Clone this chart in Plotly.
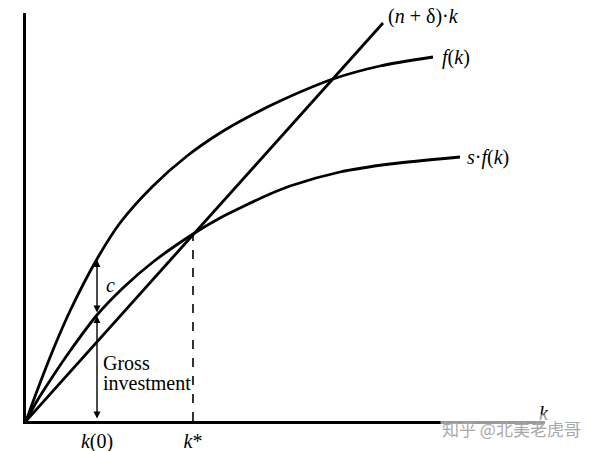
import plotly.graph_objects as go

# Capital stock (x) and output/investment (y)
k_f = [0, 11, 27, 44, 71, 94, 127, 161, 194, 222, 254, 307, 354, 407]
f_vals = [0, 30, 71, 110, 162, 198, 235, 265, 288, 304, 320, 342, 355, 364]

k_sf = [0, 11, 27, 44, 71, 98, 127, 167, 194, 214, 244, 264, 314, 364, 434]
sf_vals = [0, 20, 45, 70, 106, 134, 159, 187, 203, 213, 227, 235, 249, 257, 264]

k_line = [0, 357]
line_vals = [0, 398]

k0 = 71
k_star = 167
f_k0 = 162
sf_k0 = 106
sf_kstar = 187

x_range = [0, 519]
y_range = [0, 408]

serif = "Liberation Serif"
lw = 2.8

fig = go.Figure()
for xs, ys in [(k_f, f_vals), (k_sf, sf_vals)]:
    fig.add_trace(go.Scatter(x=xs, y=ys, mode="lines",
                             line=dict(color="black", width=lw, shape="spline", smoothing=0.8),
                             cliponaxis=False, hoverinfo="skip", showlegend=False))
fig.add_trace(go.Scatter(x=k_line, y=line_vals, mode="lines", line=dict(color="black", width=lw),
                         cliponaxis=False, hoverinfo="skip", showlegend=False))
# dashed line at the steady state
fig.add_trace(go.Scatter(x=[k_star, k_star], y=[0, sf_kstar], mode="lines",
                         line=dict(color="black", width=1.6, dash="dash"),
                         hoverinfo="skip", showlegend=False))

# double-headed arrows: consumption and gross investment at k(0)
for top, bot in [(f_k0, sf_k0), (sf_k0, 0)]:
    fig.add_annotation(x=k0, y=top - 1, ax=k0, ay=bot + 1, xref="x", yref="y", axref="x", ayref="y",
                       text="", showarrow=True, arrowhead=2, arrowside="end+start", arrowsize=1,
                       arrowwidth=1.4, arrowcolor="black")

lbl = dict(font=dict(family=serif, size=20, color="black"), showarrow=False, xref="x", yref="y",
           xanchor="left", yanchor="middle")
fig.add_annotation(x=360, y=405, text="(<i>n</i> + δ)·<i>k</i>", **lbl)
fig.add_annotation(x=414, y=364, text="<i>f</i>(<i>k</i>)", **lbl)
fig.add_annotation(x=439, y=264, text="<i>s</i>·<i>f</i>(<i>k</i>)", **lbl)
fig.add_annotation(x=78, y=136, text="<i>c</i>", **lbl)
fig.add_annotation(x=75, y=58, text="Gross", **lbl)
fig.add_annotation(x=75, y=38, text="investment", **lbl)
fig.add_annotation(x=511, y=8, text="<i>k</i>", **lbl)

# watermark (paper coordinates so it is drawn below the axis)
fig.add_annotation(x=0.935, y=-0.018, xref="paper", yref="paper", text="知乎 @北美老虎哥",
                   showarrow=False, xanchor="center", yanchor="middle",
                   font=dict(family="Noto Sans CJK SC", size=17, color="#a8a8a8"),
                   bgcolor="rgba(255,255,255,0.6)")

fig.update_xaxes(range=x_range, showline=True, linecolor="black", linewidth=2.6, showgrid=False,
                 zeroline=False, automargin=False,
                 tickvals=[k0, k_star], ticktext=["<i>k</i>(0)", "<i>k</i>*"], ticks="",
                 tickfont=dict(family=serif, size=20, color="black"))
fig.update_yaxes(range=y_range, showline=True, linecolor="black", linewidth=2.6, showgrid=False,
                 zeroline=False, automargin=False, showticklabels=False, ticks="")
# the page body adds an 8px offset, so the margins are shifted to compensate
fig.update_layout(width=600, height=451, margin=dict(l=18, r=63, t=5, b=38),
                  plot_bgcolor="white", paper_bgcolor="white")
fig.write_html("out.html")
